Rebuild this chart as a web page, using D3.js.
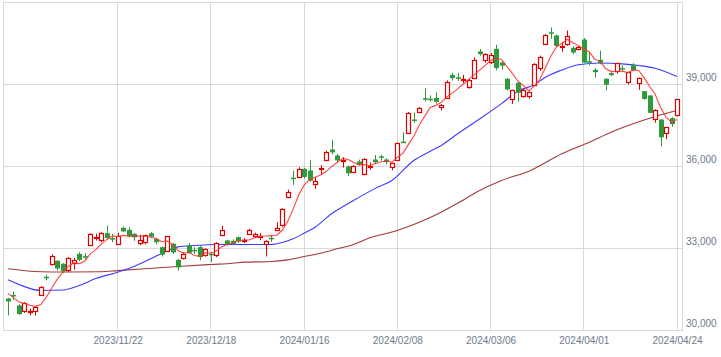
<!DOCTYPE html>
<html><head><meta charset="utf-8">
<script src="https://cdn.jsdelivr.net/npm/d3@7"></script>
<style>body{margin:0;background:#fff}svg{display:block}</style>
</head><body><svg id="c" width="721" height="357"></svg>
<script>
const dates = [
"2023/10/24","2023/10/25","2023/10/26","2023/10/27","2023/10/30","2023/10/31",
"2023/11/01","2023/11/02","2023/11/06","2023/11/07","2023/11/08","2023/11/09","2023/11/10","2023/11/13","2023/11/14","2023/11/15","2023/11/16","2023/11/17","2023/11/20","2023/11/21","2023/11/22","2023/11/24","2023/11/27","2023/11/28","2023/11/29","2023/11/30",
"2023/12/01","2023/12/04","2023/12/05","2023/12/06","2023/12/07","2023/12/08","2023/12/11","2023/12/12","2023/12/13","2023/12/14","2023/12/15","2023/12/18","2023/12/19","2023/12/20","2023/12/21","2023/12/22","2023/12/25","2023/12/26","2023/12/27","2023/12/28","2023/12/29",
"2024/01/04","2024/01/05","2024/01/09","2024/01/10","2024/01/11","2024/01/12","2024/01/15","2024/01/16","2024/01/17","2024/01/18","2024/01/19","2024/01/22","2024/01/23","2024/01/24","2024/01/25","2024/01/26","2024/01/29","2024/01/30","2024/01/31",
"2024/02/01","2024/02/02","2024/02/05","2024/02/06","2024/02/07","2024/02/08","2024/02/09","2024/02/13","2024/02/14","2024/02/15","2024/02/16","2024/02/19","2024/02/20","2024/02/21","2024/02/22","2024/02/26","2024/02/27","2024/02/28","2024/02/29",
"2024/03/01","2024/03/04","2024/03/05","2024/03/06","2024/03/07","2024/03/08","2024/03/11","2024/03/12","2024/03/13","2024/03/14","2024/03/15","2024/03/18","2024/03/19","2024/03/21","2024/03/22","2024/03/25","2024/03/26","2024/03/27","2024/03/28","2024/03/29",
"2024/04/01","2024/04/02","2024/04/03","2024/04/04","2024/04/05","2024/04/08","2024/04/09","2024/04/10","2024/04/11","2024/04/12","2024/04/15","2024/04/16","2024/04/17","2024/04/18","2024/04/19","2024/04/22","2024/04/23","2024/04/24"];

const open = [31170,31300,30915,30706,30680,30700,31320,31965,32430,32550,
 32440,32220,32470,32800,32720,33110,33400,33330,33560,33380,
 33170,33756,33683,33537,33220,33232,33560,33353,33048,32902,
 33172,32585,32660,33110,32950,33048,32744,32805,32780,33476,
 33293,33280,33415,33290,33537,33451,33440,33172,33390,33683,
 33854,34866,35590,35611,35915,35854,35366,35950,36268,36622,
 36402,36200,36000,35817,36183,35732,36000,36256,36370,36256,
 35976,36256,36910,37232,37720,38012,38500,38480,38512,38171,
 38500,39354,39260,39190,38927,39268,40207,39878,39817,40305,
 39805,39208,38476,39061,38598,38561,38963,39610,40488,40910,
 40793,40380,40488,40342,40281,40646,39850,39537,39902,39208,
 39415,39488,39600,39061,39720,39061,38756,38598,37756,37720,
 37232,37768,37866];
const high = [31200,31430,30960,31040,30800,30890,31620,32040,32790,32570,
 32470,32690,32660,32865,32830,33560,33540,33600,33840,33540,
 33573,33800,33780,33560,33500,33500,33600,33380,33070,33460,
 33200,32620,32850,33195,33050,33110,33000,32850,33230,33830,
 33320,33330,33440,33380,33720,33580,33560,33300,33500,33963,
 34480,35150,35840,35975,35950,36245,35610,36050,36580,36977,
 36460,36340,36030,36050,36250,36300,36150,36420,36430,36300,
 36140,36880,37250,37990,37980,38180,38870,38600,38720,38280,
 39150,39430,39430,39350,39200,39990,40300,40140,40150,40451,
 39850,39240,38810,39100,38850,38740,39780,40060,40850,41090,
 40830,40560,40976,40400,40420,40700,40200,39600,40244,39230,
 39500,39780,39700,39460,39780,39250,38760,38600,38090,37720,
 37450,37800,38460];
const low = [30550,31120,30570,30640,30550,30550,31290,31840,32370,32200,
 32100,32130,32220,32540,32610,33090,33290,33230,33360,33230,
 33150,33600,33400,33280,33120,33150,33380,33150,32707,32880,
 32800,32195,32600,32820,32800,32570,32700,32500,32680,33450,
 33100,33140,33200,33200,33500,33420,33300,32707,33240,33650,
 33800,34840,35330,35580,35560,35450,35183,35700,36200,36440,
 36150,35960,35650,35780,36030,35680,35880,36100,36220,36080,
 35860,36200,36850,37200,37600,37970,38380,38380,38300,38050,
 38480,39150,39130,39050,38850,39250,40060,39800,39750,39520,
 39550,38780,38292,38370,38520,38480,38940,39500,40460,40670,
 40380,40200,40420,40100,40250,39780,39700,39250,39740,38780,
 39300,39400,39450,39000,39480,38805,38440,37950,37600,36732,
 37000,37450,37840];
const close = [31063,31270,30602,30992,30697,30859,31602,31950,32708,32272,
 32166,32646,32568,32585,32696,33520,33424,33585,33388,33354,
 33452,33626,33448,33408,33321,33487,33432,33231,32776,33446,
 32858,32308,32792,32843,32926,32686,32971,32759,33219,33676,
 33140,33169,33254,33306,33681,33540,33464,33288,33377,33763,
 34442,35050,35577,35902,35619,35478,35466,35963,36547,36518,
 36226,36236,35751,36027,36066,36287,36011,36158,36354,36161,
 36120,36863,36897,37964,37703,38158,38487,38470,38364,38262,
 39099,39234,39240,39208,39166,39911,40109,40098,40091,39599,
 39689,38820,38798,38696,38807,38708,39740,40004,40816,40888,
 40414,40398,40763,40168,40369,39803,39839,39452,39773,38992,
 39347,39773,39582,39443,39524,39233,38471,37962,38080,37068,
 37439,37552,38460];

// 5-day moving average (one value per candle)
const ma5 = [31359,31205,31039,30985,30925,30884,30950,31220,31563,31878,
 32140,32348,32472,32447,32532,32803,32959,33162,33323,33454,
 33441,33481,33454,33458,33451,33458,33419,33376,33249,33274,
 33149,32924,32836,32849,32745,32711,32844,32837,32912,33062,
 33153,33193,33292,33309,33310,33390,33449,33456,33470,33486,
 33667,33984,34442,34947,35318,35525,35608,35686,35815,35994,
 36144,36298,36256,36152,36061,36073,36028,36110,36175,36194,
 36161,36331,36479,36801,37109,37517,37842,38156,38236,38348,
 38536,38686,38840,39009,39189,39352,39527,39698,39875,39962,
 39917,39659,39399,39120,38962,38766,38950,39191,39615,40031,
 40372,40504,40656,40526,40422,40300,40188,39926,39847,39572,
 39481,39467,39493,39427,39534,39511,39251,38927,38654,38163,
 37804,37620,37720];

// 25-day moving average, read at these candle positions
const ma25Idx = [0,2,6,10,13,16,20,23,26,29,31,34,39,48,50,52,54,56,59,63,67,70,74,77,79,82,86,90,93,96,98,101,104,108,112,115,118,122];
const ma25Val = [31855,31683,31463,31480,31646,31900,32133,32341,32623,32908,33060,33110,33146,33146,33220,33355,33560,33780,34269,34756,35200,35488,36220,36560,36768,37196,37738,38300,38760,38990,39267,39530,39725,39785,39756,39695,39597,39293];

// 75-day moving average, read at these candle positions
const ma75Idx = [0,4,8,17,20,25,31,37,41,43,48,51,54,57,60,63,66,71,75,79,82,86,90,95,101,106,110,114,118,122];
const ma75Val = [32257,32170,32140,32150,32190,32257,32341,32415,32462,32500,32524,32585,32707,32829,32988,33150,33390,33659,33962,34328,34657,35122,35488,35829,36464,36890,37256,37561,37829,38049];

const xTickLabels = ["2023/11/22","2023/12/18","2024/01/16","2024/02/08","2024/03/06","2024/04/01","2024/04/24"];
const yTickValues = [30000,33000,36000,39000];

const svg = d3.select('#c');
const x = d3.scalePoint().domain(dates).range([8, 677]);
const y = d3.scaleLinear().domain([30000, 42000]).range([330.5, 2.5]);

const gridColor = '#d9d9d9';
const grid = svg.append('g');
xTickLabels.forEach(d => {
  const px = Math.floor(x(d)) + 0.5;
  grid.append('line').attr('x1', px).attr('x2', px).attr('y1', 2.5).attr('y2', 330.5)
    .attr('stroke', gridColor).attr('stroke-width', 1);
});
yTickValues.forEach(v => {
  const py = y(v);
  grid.append('line').attr('x1', 3.5).attr('x2', 682.5).attr('y1', py).attr('y2', py)
    .attr('stroke', gridColor).attr('stroke-width', 1);
});
grid.append('rect').attr('x', 3.5).attr('y', 2.5).attr('width', 679).attr('height', 328)
  .attr('fill', 'none').attr('stroke', gridColor).attr('stroke-width', 1);

// axes (labels only)
const font = '"Liberation Sans", Arial, sans-serif';
const labelColor = '#6e7a8a';
const xAxis = svg.append('g').attr('transform', 'translate(0,331)')
  .call(d3.axisBottom(x).tickValues(xTickLabels).tickSize(0).tickPadding(6));
xAxis.select('.domain').remove();
xAxis.selectAll('text').attr('font-family', font).attr('font-size', 10).attr('fill', labelColor);

const yAxis = svg.append('g').attr('transform', 'translate(682,0)')
  .call(d3.axisRight(y).tickValues(yTickValues).tickSize(0).tickPadding(4).tickFormat(d3.format(',')));
yAxis.select('.domain').remove();
yAxis.selectAll('.tick').attr('transform', d => `translate(0,${y(d)})`);
yAxis.selectAll('text').attr('font-family', font).attr('font-size', 10).attr('fill', labelColor).attr('dy', -3.5);

// moving averages
const idxX = i => x(dates[i]);
const lineSmooth = d3.line().x(d => idxX(d[0])).y(d => y(d[1])).curve(d3.curveMonotoneX);
svg.append('path').datum(ma75Idx.map((i, k) => [i, ma75Val[k]]))
  .attr('d', lineSmooth).attr('fill', 'none').attr('stroke', '#a33a3a').attr('stroke-width', 1.1);
svg.append('path').datum(ma25Idx.map((i, k) => [i, ma25Val[k]]))
  .attr('d', lineSmooth).attr('fill', 'none').attr('stroke', '#3b3bff').attr('stroke-width', 1.1);

// candles
const RED = '#e00000', GREEN = '#2f9a3b';
const cg = svg.append('g');
dates.forEach((d, i) => {
  const cx = Math.round(x(d));
  const up = close[i] >= open[i];
  const col = up ? RED : GREEN;
  cg.append('line').attr('x1', cx + 0.5).attr('x2', cx + 0.5)
    .attr('y1', y(high[i])).attr('y2', y(low[i])).attr('stroke', col).attr('stroke-width', 1);
  const yt = y(Math.max(open[i], close[i])), yb = y(Math.min(open[i], close[i]));
  if (up) {
    cg.append('rect').attr('x', cx - 1.5).attr('width', 4)
      .attr('y', Math.round(yt) + 0.5).attr('height', Math.max(Math.round(yb - yt), 1))
      .attr('fill', '#fff').attr('stroke', RED).attr('stroke-width', 1.2);
  } else {
    cg.append('rect').attr('x', cx - 2).attr('width', 5)
      .attr('y', yt).attr('height', Math.max(yb - yt, 1.5))
      .attr('fill', GREEN);
  }
});

// 5-day MA on top
const line5 = d3.line().x((d, i) => x(dates[i])).y(d => y(d));
svg.append('path').datum(ma5).attr('d', line5).attr('fill', 'none')
  .attr('stroke', '#ff3030').attr('stroke-width', 1.1).attr('stroke-opacity', 0.9);
</script></body></html>
